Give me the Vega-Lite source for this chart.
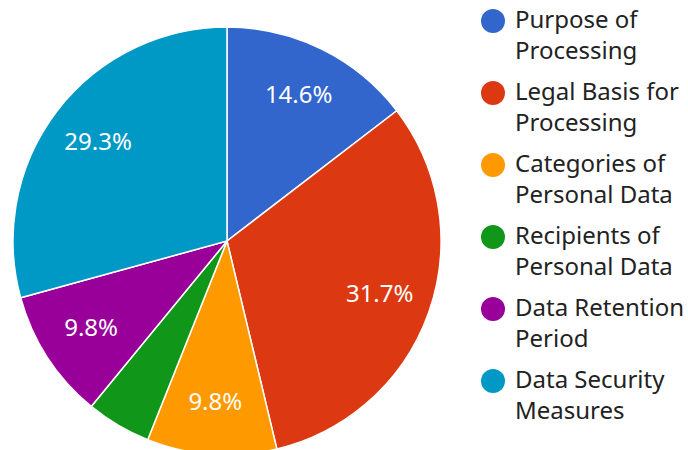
{
  "$schema": "https://vega.github.io/schema/vega-lite/v6.json",
  "autosize": {"type": "pad"},
  "padding": 0,
  "width": 454,
  "height": 482,
  "background": "white",
  "config": {"view": {"stroke": null}, "font": "Noto Sans", "style": {"guide-label": {"lineHeight": 31}}},
  "data": {
    "values": [
      {"category": "Purpose of Processing", "idx": 1, "share": 0.146},
      {"category": "Legal Basis for Processing", "idx": 2, "share": 0.317},
      {"category": "Categories of Personal Data", "idx": 3, "share": 0.098},
      {"category": "Recipients of Personal Data", "idx": 4, "share": 0.049},
      {"category": "Data Retention Period", "idx": 5, "share": 0.098},
      {"category": "Data Security Measures", "idx": 6, "share": 0.293}
    ]
  },
  "encoding": {
    "theta": {"field": "share", "type": "quantitative", "stack": true},
    "order": {"field": "idx", "type": "quantitative"},
    "color": {
      "field": "category",
      "type": "nominal",
      "sort": null,
      "scale": {"range": ["#3366cc", "#dc3912", "#ff9900", "#109618", "#990099", "#0099c6"]},
      "legend": {
        "title": null,
        "orient": "none",
        "legendX": 481,
        "legendY": 9,
        "padding": 0,
        "symbolType": "circle",
        "symbolSize": 576,
        "symbolStrokeWidth": 0,
        "labelFont": "Noto Sans",
        "labelFontSize": 24,
        "labelColor": "#222222",
        "labelLimit": 300,
        "labelOffset": 10,
        "rowPadding": 17,
        "labelExpr": "{'Purpose of Processing': ['Purpose of', 'Processing'], 'Legal Basis for Processing': ['Legal Basis for', 'Processing'], 'Categories of Personal Data': ['Categories of', 'Personal Data'], 'Recipients of Personal Data': ['Recipients of', 'Personal Data'], 'Data Retention Period': ['Data Retention', 'Period'], 'Data Security Measures': ['Data Security', 'Measures']}[datum.label]"
      }
    }
  },
  "layer": [
    {
      "mark": {"type": "arc", "outerRadius": 214, "stroke": "white", "strokeWidth": 1.5}
    },
    {
      "mark": {"type": "text", "radius": 162, "fontSize": 24, "fill": "white", "font": "Noto Sans"},
      "encoding": {
        "text": {"field": "share", "type": "quantitative", "format": ".1%"},
        "color": {"value": "white"},
        "opacity": {"condition": {"test": "datum.share < 0.06", "value": 0}, "value": 1}
      }
    }
  ]
}
